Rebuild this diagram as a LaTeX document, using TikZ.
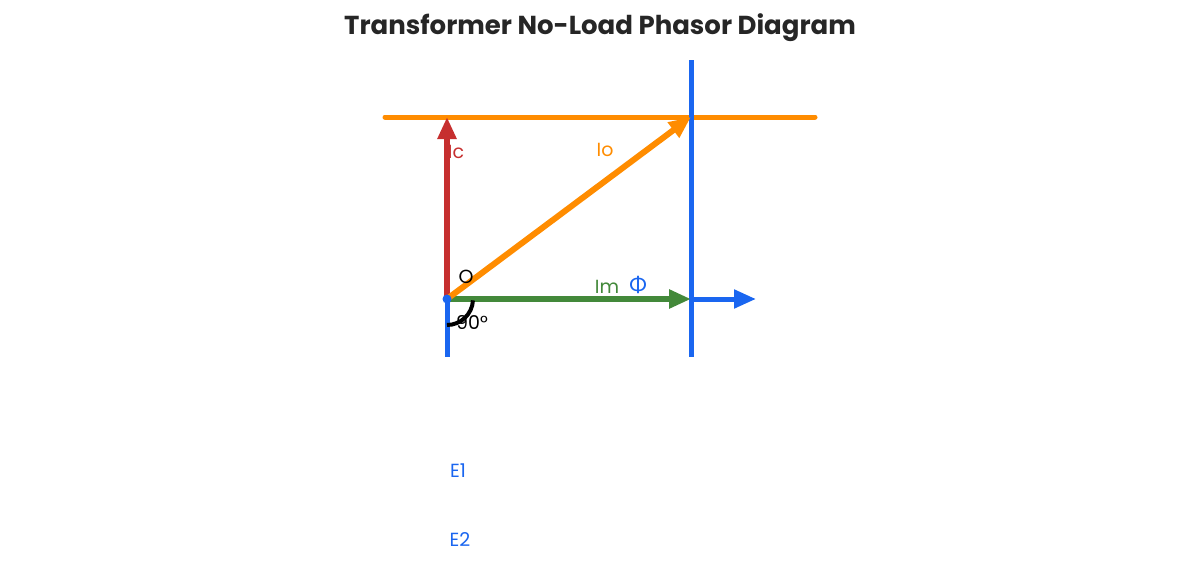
\documentclass[tikz,border=0pt]{standalone}
\usepackage{fontspec}
\setmainfont{Poppins}
\newfontfamily\phifont{Lato}
\usetikzlibrary{arrows.meta}
\definecolor{cred}{HTML}{C62F2F}
\definecolor{corange}{HTML}{FF8C00}
\definecolor{cgreen}{HTML}{43893A}
\definecolor{cblue}{HTML}{1A66F0}
\begin{document}
\begin{tikzpicture}[x=1pt,y=-1pt,
  phasor/.style={line width=6pt,-{Triangle[length=22pt,width=18pt]}},
  lbl/.style={font=\fontsize{19}{19}\selectfont,inner sep=0pt}]
\useasboundingbox (0,0) rectangle (1200,570);
\node[font=\fontsize{26}{26}\selectfont\bfseries,text=black!85] (title) at (600,28) {Transformer No-Load Phasor Diagram};
\coordinate (O) at (447,299);
\coordinate (top) at (447,117);
\coordinate (hl) at (385,117);
\coordinate (hr) at (815,117);
\coordinate (vt) at (691,60);
\coordinate (vb) at (691,357);
\coordinate (P) at (691,117);
\coordinate (M) at (691,299);
\coordinate (F) at (756,299);
\coordinate (Ob) at (447,357);
% guide lines
\draw[corange,line width=5pt,line cap=round] (hl) -- (hr);
\draw[cblue,line width=5pt] (vt) -- (vb);
\draw[cblue,line width=5pt] (O) -- (Ob);
% phasors
\draw[phasor,cblue,line width=5pt] (M) -- (F);
\draw[phasor,cred] (O) -- (top);
\draw[phasor,cgreen] (O) -- (M);
\draw[phasor,corange] (O) -- (P);
\fill[cblue] (O) circle (4.5);
\draw[black,line width=4pt] ([shift={(0,26)}]O) arc[start angle=90,end angle=3,radius=26];
% labels
\node[lbl,text=cred] (Ic) at (456,152) {Ic};
\node[lbl,text=corange] (Io) at (605,150) {Io};
\node[lbl] (Olbl) at (466,277) {O};
\node[lbl,text=cgreen] (Im) at (607,287) {Im};
\node[lbl,text=cblue] (Phi) at (638,285) {\phifont\fontsize{21}{21}\selectfont Φ};
\node[lbl] (ang) at (472,323) {90°};
\node[lbl,text=cblue] (E1) at (458,471) {E1};
\node[lbl,text=cblue] (E2) at (460,540) {E2};
\end{tikzpicture}
\end{document}
